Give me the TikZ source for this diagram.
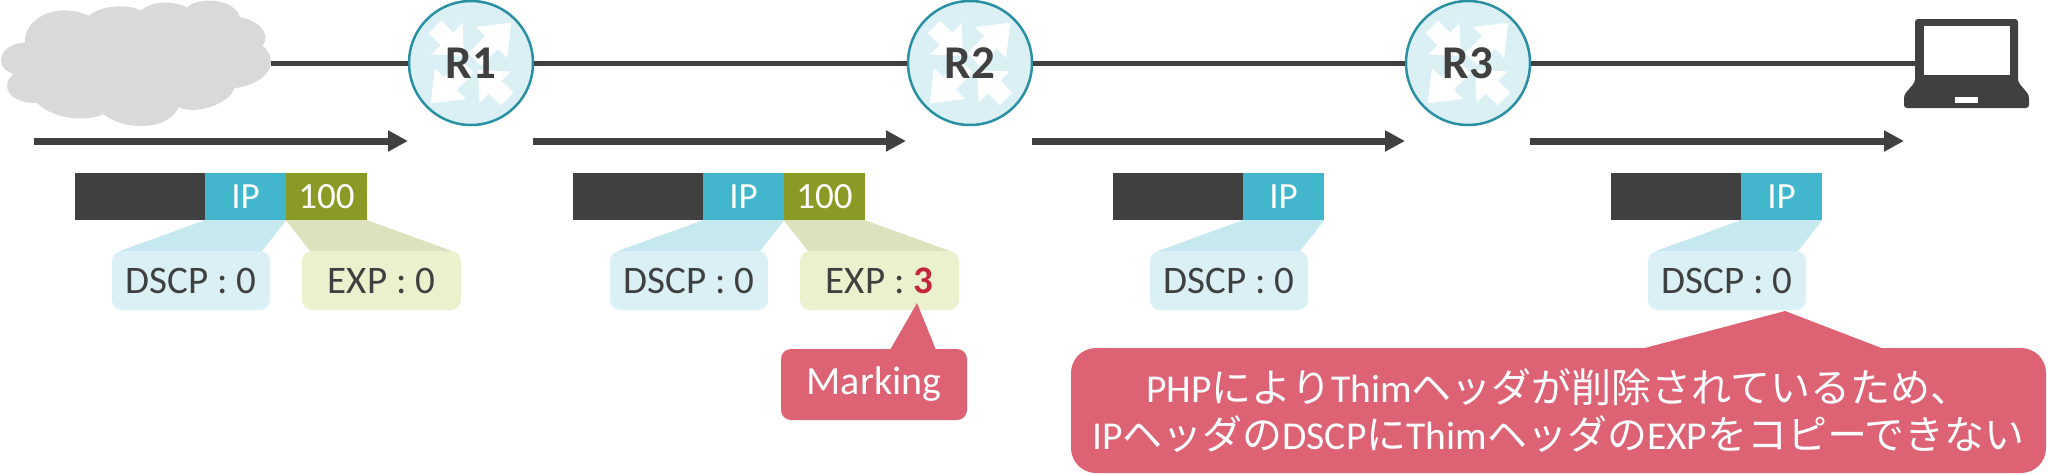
\documentclass[tikz,border=0pt]{standalone}
\usepackage{fontspec}
\usetikzlibrary{arrows.meta}
\setmainfont{Carlito}
\newfontfamily\jafont{Noto Sans CJK JP}
\newcommand{\ja}[1]{{\fontsize{40}{46}\jafont #1}}
\definecolor{dark}{HTML}{404040}
\definecolor{ipblue}{HTML}{41B6CC}
\definecolor{olive}{HTML}{8A9A24}
\definecolor{lblue}{HTML}{DAF0F5}
\definecolor{tblue}{HTML}{C6E8EF}
\definecolor{lolive}{HTML}{EBF1CD}
\definecolor{tolive}{HTML}{DCE2BD}
\definecolor{callred}{HTML}{DC6274}
\definecolor{numred}{HTML}{C4273D}
\definecolor{ring}{HTML}{2A8FA3}
\definecolor{cloudgrey}{HTML}{D9D9D9}
\tikzset{
  link/.style={draw=dark,line width=5pt},
  flow/.style={draw=dark,line width=7pt,-{Triangle[length=20pt,width=20pt]},shorten >=0pt},
  router/.style={circle,draw=ring,line width=2.5pt,fill=lblue,minimum size=124pt,inner sep=0pt},
  rlabel/.style={text=dark,font=\fontsize{47}{47}\selectfont\bfseries,inner sep=0pt},
  seg/.style={inner sep=0pt,minimum height=47pt,text=white,font=\fontsize{37}{37}\selectfont},
  field/.style={rounded corners=10pt,inner sep=0pt,minimum width=158pt,minimum height=59pt,text=dark,font=\fontsize{39}{39}\selectfont},
  callout/.style={fill=callred,rounded corners=#1,inner sep=0pt,text=white},
  callout/.default=10pt,
  wharrow/.pic={
    \fill[white] (5,-9) -- (29,-9) -- (29,-22) -- (57,0) -- (29,22) -- (29,9) -- (5,9) -- cycle;
  },
  inarrow/.pic={
    \fill[white] (51,-9) -- (34,-9) -- (34,-22) -- (10,0) -- (34,22) -- (34,9) -- (51,9) -- cycle;
  },
}
\newcommand{\packet}[2]{%
  \node[seg,fill=dark,minimum width=130pt] (#2d) at (#1+140,196.5) {};
  \node[seg,fill=ipblue,minimum width=81pt] (#2ip) at (#1+245.5,196.5) {IP};
  \node[field,fill=lblue] (#2ds) at (#1+191,280.5) {DSCP : 0};
  \fill[tblue] (#2ip.south west) -- (#2ip.south east) -- (#1+262,251) -- (#1+120,251) -- cycle;
}
\begin{document}
\begin{tikzpicture}[x=1pt,y=-1pt]
\useasboundingbox (0,0) rectangle (2048,474);
% cloud
\fill[cloudgrey] (88.6,15.7)
  .. controls (100,6.5) and (125,2.5) .. (141,10.7)
  .. controls (150,1) and (175,0) .. (187,7.7)
  .. controls (196,-3) and (234,-3) .. (240,17.3)
  .. controls (257,20) and (272,33) .. (262.5,45.7)
  .. controls (268,50) and (271,56) .. (271,62)
  .. controls (271,75) and (254,86) .. (234,88.3)
  .. controls (232,101) and (200,116) .. (178.6,107.3)
  .. controls (168,131) and (125,131) .. (103.6,114.3)
  .. controls (88,121) and (55,121) .. (36.8,102.7)
  .. controls (22,104) and (7,97) .. (7,86)
  .. controls (7,81) and (10,77) .. (13.6,74)
  .. controls (5,71) and (1,66) .. (1,60)
  .. controls (1,50) and (12,43) .. (25,42.7)
  .. controls (24,16) and (60,2) .. (88.6,15.7) -- cycle;
\node[inner sep=0pt,minimum width=270pt,minimum height=1pt] (cloud) at (136,63) {};
% laptop
\node[inner sep=0pt,minimum width=1pt,minimum height=1pt] (laptop) at (1915.5,63) {};
\fill[dark,rounded corners=3pt] (1915,19) -- (2018,19) -- (2018,82) -- (2029,95) -- (2029,108) -- (1904,108) -- (1904,95) -- (1915,82) -- cycle;
\fill[white] (1924,26) rectangle (2010,75);
\fill[white] (1955,97) rectangle (1978,103);
% routers
\node[router] (r1) at (471,63) {};
\node[router] (r2) at (970,63) {};
\node[router] (r3) at (1468,63) {};
\draw[link] (cloud.east) -- (r1);
\draw[link] (r1) -- (r2);
\draw[link] (r2) -- (r3);
\draw[link] (r3) -- (laptop);
\foreach \r/\t in {r1/R1,r2/R2,r3/R3}{
  \path (\r) pic[rotate=45] {wharrow} pic[rotate=225] {wharrow} pic[rotate=135] {inarrow} pic[rotate=315] {inarrow};
  \node[rlabel] at (\r) {\t};
}
% flow arrows
\coordinate (a1s) at (33.5,141); \coordinate (a1e) at (408,141);
\coordinate (a2s) at (533,141); \coordinate (a2e) at (906,141);
\coordinate (a3s) at (1032,141); \coordinate (a3e) at (1405,141);
\coordinate (a4s) at (1530,141); \coordinate (a4e) at (1904,141);
\draw[flow] (a1s) -- (a1e);
\draw[flow] (a2s) -- (a2e);
\draw[flow] (a3s) -- (a3e);
\draw[flow] (a4s) -- (a4e);
% packets
\packet{0}{pa}
\packet{498}{pb}
\packet{1038}{pc}
\packet{1536}{pd}
\node[seg,fill=olive,minimum width=81pt] (pae) at (326.5,196.5) {100};
\node[seg,fill=olive,minimum width=81pt] (pbe) at (824.5,196.5) {100};
\fill[tolive] (pae.south west) -- (pae.south east) -- (452,251) -- (310,251) -- cycle;
\fill[tolive] (pbe.south west) -- (pbe.south east) -- (950,251) -- (808,251) -- cycle;
\node[field,fill=lolive,minimum width=159pt] (pax) at (381.5,280.5) {EXP : 0};
\node[field,fill=lolive,minimum width=159pt] (pbx) at (879.5,280.5) {EXP : \textcolor{numred}{\bfseries 3}};
% callouts
\fill[callred] (890,350) -- (917,303) -- (936,350) -- cycle;
\node[callout,minimum width=186pt,minimum height=71pt,font=\fontsize{40}{40}\selectfont] (mk) at (874,384.5) {Marking};
\fill[callred] (1641,349) -- (1785,311) -- (1884,349) -- cycle;
\node[callout=25pt,minimum width=975pt,minimum height=125pt,align=center,font=\fontsize{39.5}{47}\selectfont] (note) at (1558.5,410.5)
 {PHP\ja{により}Thim\ja{ヘッダが削除されているため、}\\IP\ja{ヘッダの}DSCP\ja{に}Thim\ja{ヘッダの}EXP\ja{をコピーできない}};
\end{tikzpicture}
\end{document}
